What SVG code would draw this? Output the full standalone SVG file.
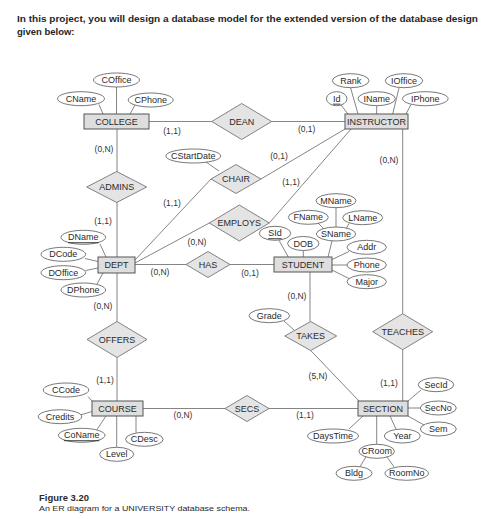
<svg xmlns="http://www.w3.org/2000/svg" width="495" height="519" viewBox="0 0 495 519">
<style>
text{font-family:"Liberation Sans",Arial,sans-serif;fill:#2a2a2a;}
.t{font-size:9px;text-anchor:middle;dominant-baseline:central;}
.card{font-size:8.5px;text-anchor:middle;dominant-baseline:central;fill:#333;}
.ent rect{fill:#dedede;stroke:#555;stroke-width:1;}
.rel polygon{fill:#e4e4e4;stroke:#666;stroke-width:0.8;}
.att ellipse{fill:#fff;stroke:#555;stroke-width:0.8;}
.ln line{stroke:#666;stroke-width:0.8;}
.hd{font-family:"Liberation Sans",Arial,sans-serif;font-size:9.5px;font-weight:bold;fill:#262626;}
</style>
<rect width="495" height="519" fill="#fff"/>
<text class="hd" x="17" y="22" textLength="461" lengthAdjust="spacingAndGlyphs">In this project, you will design a database model for the extended version of the database design</text>
<text class="hd" x="17" y="35">given below:</text>

<g id="connectors" class="ln">
<line x1="149" y1="121.5" x2="211.7" y2="121.5"/>
<line x1="271.7" y1="121.5" x2="345" y2="121.5"/>
<line x1="117" y1="129" x2="117" y2="172"/>
<line x1="117" y1="202" x2="117" y2="257"/>
<line x1="117" y1="273" x2="117" y2="321.5"/>
<line x1="117" y1="357.5" x2="117" y2="401"/>
<line x1="135" y1="260" x2="211" y2="179"/>
<line x1="261" y1="179" x2="345" y2="129"/>
<line x1="135" y1="263" x2="209.3" y2="223"/>
<line x1="269.3" y1="223" x2="351" y2="129"/>
<line x1="135" y1="264.5" x2="186" y2="264.5"/>
<line x1="230" y1="264.5" x2="274" y2="264.5"/>
<line x1="402.7" y1="129" x2="402.7" y2="313.7"/>
<line x1="402.7" y1="349.7" x2="402.7" y2="401"/>
<line x1="310" y1="272" x2="310" y2="321.5"/>
<line x1="310.7" y1="350.5" x2="359" y2="401"/>
<line x1="143" y1="408.5" x2="225" y2="408.5"/>
<line x1="269" y1="408.5" x2="358" y2="408.5"/>
<line x1="116.5" y1="87" x2="116.5" y2="114"/>
<line x1="99" y1="104.5" x2="103" y2="114"/>
<line x1="135" y1="105" x2="130" y2="114"/>
<line x1="341" y1="105" x2="348" y2="114"/>
<line x1="350.5" y1="87.5" x2="358" y2="114"/>
<line x1="376.7" y1="105.7" x2="376.7" y2="114"/>
<line x1="399" y1="88" x2="392.7" y2="114"/>
<line x1="411" y1="104.5" x2="406" y2="114"/>
<line x1="206" y1="162" x2="219" y2="171"/>
<line x1="100" y1="244" x2="106" y2="257"/>
<line x1="85" y1="258.5" x2="98" y2="261.5"/>
<line x1="85.5" y1="270.5" x2="98" y2="268"/>
<line x1="97" y1="284" x2="103" y2="273"/>
<line x1="336" y1="207.7" x2="336" y2="227"/>
<line x1="318" y1="223" x2="324" y2="229"/>
<line x1="349" y1="223.5" x2="346" y2="229"/>
<line x1="332" y1="241" x2="328" y2="257"/>
<line x1="279" y1="240.3" x2="288.3" y2="257"/>
<line x1="303.3" y1="250.5" x2="303.3" y2="257"/>
<line x1="349" y1="251.5" x2="332" y2="259.5"/>
<line x1="332" y1="265" x2="347" y2="265"/>
<line x1="332" y1="270" x2="349" y2="278.5"/>
<line x1="284" y1="321" x2="294" y2="330"/>
<line x1="88" y1="396.5" x2="92" y2="401"/>
<line x1="80.5" y1="415" x2="92" y2="411.5"/>
<line x1="97" y1="429.5" x2="106" y2="416"/>
<line x1="116.7" y1="416" x2="116.7" y2="447.3"/>
<line x1="136" y1="416" x2="136" y2="432.5"/>
<line x1="408" y1="401" x2="421" y2="390"/>
<line x1="408" y1="408" x2="420.3" y2="408"/>
<line x1="408" y1="416" x2="424" y2="425"/>
<line x1="390" y1="416" x2="396" y2="429"/>
<line x1="363" y1="416" x2="349" y2="429"/>
<line x1="376.7" y1="416" x2="376.7" y2="444.3"/>
<line x1="366" y1="457" x2="360" y2="466.5"/>
<line x1="387" y1="457" x2="394" y2="466.8"/>
</g>

<g id="COLLEGE" class="ent"><rect x="84" y="114" width="65" height="15"/><text class="t" x="116.5" y="121.5">COLLEGE</text></g>
<g id="INSTRUCTOR" class="ent"><rect x="345" y="114" width="63" height="15"/><text class="t" x="376.5" y="121.5">INSTRUCTOR</text></g>
<g id="DEPT" class="ent"><rect x="98" y="257" width="37" height="16"/><text class="t" x="116.5" y="265">DEPT</text></g>
<g id="STUDENT" class="ent"><rect x="274" y="257" width="58" height="15"/><text class="t" x="303" y="264.5">STUDENT</text></g>
<g id="COURSE" class="ent"><rect x="92" y="401" width="51" height="15"/><text class="t" x="117.5" y="408.5">COURSE</text></g>
<g id="SECTION" class="ent"><rect x="358" y="401" width="50" height="15"/><text class="t" x="383" y="408.5">SECTION</text></g>

<g id="DEAN" class="rel"><polygon points="211.7,121.5 241.7,103.5 271.7,121.5 241.7,139.5"/><text class="t" x="241.7" y="121.5">DEAN</text></g>
<g id="ADMINS" class="rel"><polygon points="86.7,187 116.7,171.5 146.7,187 116.7,202.5"/><text class="t" x="116.7" y="187">ADMINS</text></g>
<g id="CHAIR" class="rel"><polygon points="211,179 236,164.5 261,179 236,193.5"/><text class="t" x="236" y="179">CHAIR</text></g>
<g id="EMPLOYS" class="rel"><polygon points="209.3,223 239.3,205 269.3,223 239.3,241"/><text class="t" x="239.3" y="223">EMPLOYS</text></g>
<g id="HAS" class="rel"><polygon points="186,264.5 208,251.5 230,264.5 208,277.5"/><text class="t" x="208" y="264.5">HAS</text></g>
<g id="OFFERS" class="rel"><polygon points="87,339.5 117,321.5 147,339.5 117,357.5"/><text class="t" x="117" y="339.5">OFFERS</text></g>
<g id="TAKES" class="rel"><polygon points="284.7,336 310.7,321.5 336.7,336 310.7,350.5"/><text class="t" x="310.7" y="336">TAKES</text></g>
<g id="TEACHES" class="rel"><polygon points="372.7,331.7 402.7,313.7 432.7,331.7 402.7,349.7"/><text class="t" x="402.7" y="331.7">TEACHES</text></g>
<g id="SECS" class="rel"><polygon points="225,408.5 247,395.5 269,408.5 247,421.5"/><text class="t" x="247" y="408.5">SECS</text></g>

<g id="COffice" class="att"><ellipse cx="116.5" cy="80" rx="23" ry="7"/><text class="t" x="116.5" y="80">COffice</text></g>
<g id="CName" class="att"><ellipse cx="81" cy="98.7" rx="23.5" ry="7"/><text class="t" x="81" y="98.7">CName</text></g>
<g id="CPhone" class="att"><ellipse cx="150.7" cy="100" rx="22.5" ry="7"/><text class="t" x="150.7" y="100">CPhone</text></g>
<g id="Rank" class="att"><ellipse cx="350.7" cy="80.7" rx="18.3" ry="7"/><text class="t" x="350.7" y="80.7">Rank</text></g>
<g id="IOffice" class="att"><ellipse cx="404" cy="80.7" rx="18.7" ry="7"/><text class="t" x="404" y="80.7">IOffice</text></g>
<g id="Id" class="att"><ellipse cx="336.7" cy="98.7" rx="10.3" ry="7"/><text class="t" x="336.7" y="98.7" text-decoration="underline">Id</text></g>
<g id="IName" class="att"><ellipse cx="376.7" cy="98.7" rx="18.7" ry="7"/><text class="t" x="376.7" y="98.7">IName</text></g>
<g id="IPhone" class="att"><ellipse cx="425.3" cy="98.7" rx="22.8" ry="7"/><text class="t" x="425.3" y="98.7">IPhone</text></g>
<g id="CStartDate" class="att"><ellipse cx="193.3" cy="156" rx="27.5" ry="7"/><text class="t" x="193.3" y="156">CStartDate</text></g>
<g id="DName" class="att"><ellipse cx="83.3" cy="237.3" rx="22.3" ry="7"/><text class="t" x="83.3" y="237.3" text-decoration="underline">DName</text></g>
<g id="DCode" class="att"><ellipse cx="63.3" cy="254.3" rx="22.3" ry="7"/><text class="t" x="63.3" y="254.3">DCode</text></g>
<g id="DOffice" class="att"><ellipse cx="63.3" cy="272.7" rx="22.3" ry="7"/><text class="t" x="63.3" y="272.7">DOffice</text></g>
<g id="DPhone" class="att"><ellipse cx="83.3" cy="290" rx="22.3" ry="7"/><text class="t" x="83.3" y="290">DPhone</text></g>
<g id="MName" class="att"><ellipse cx="336" cy="200.7" rx="20" ry="7"/><text class="t" x="336" y="200.7">MName</text></g>
<g id="FName" class="att"><ellipse cx="308.3" cy="217.3" rx="20" ry="7"/><text class="t" x="308.3" y="217.3">FName</text></g>
<g id="LName" class="att"><ellipse cx="362.7" cy="217.7" rx="20" ry="7"/><text class="t" x="362.7" y="217.7">LName</text></g>
<g id="SName" class="att"><ellipse cx="336" cy="234" rx="19.7" ry="7"/><text class="t" x="336" y="234">SName</text></g>
<g id="SId" class="att"><ellipse cx="275" cy="233.3" rx="15.7" ry="7"/><text class="t" x="275" y="233.3" text-decoration="underline">SId</text></g>
<g id="DOB" class="att"><ellipse cx="303.3" cy="243.5" rx="15.7" ry="7"/><text class="t" x="303.3" y="243.5">DOB</text></g>
<g id="Addr" class="att"><ellipse cx="366.7" cy="247.3" rx="19.7" ry="7"/><text class="t" x="366.7" y="247.3">Addr</text></g>
<g id="Phone" class="att"><ellipse cx="366.7" cy="265" rx="19.7" ry="7"/><text class="t" x="366.7" y="265">Phone</text></g>
<g id="Major" class="att"><ellipse cx="366.7" cy="281.7" rx="19.7" ry="7"/><text class="t" x="366.7" y="281.7">Major</text></g>
<g id="Grade" class="att"><ellipse cx="269.3" cy="315.7" rx="20.3" ry="7"/><text class="t" x="269.3" y="315.7">Grade</text></g>
<g id="CCode" class="att"><ellipse cx="66" cy="390" rx="22.8" ry="7"/><text class="t" x="66" y="390">CCode</text></g>
<g id="Credits" class="att"><ellipse cx="60" cy="416.7" rx="21.7" ry="7"/><text class="t" x="60" y="416.7">Credits</text></g>
<g id="CoName" class="att"><ellipse cx="81.7" cy="435.3" rx="23.3" ry="7"/><text class="t" x="81.7" y="435.3" text-decoration="underline">CoName</text></g>
<g id="Level" class="att"><ellipse cx="116.7" cy="454.3" rx="17" ry="7"/><text class="t" x="116.7" y="454.3">Level</text></g>
<g id="CDesc" class="att"><ellipse cx="144.3" cy="439.3" rx="18.8" ry="7"/><text class="t" x="144.3" y="439.3">CDesc</text></g>
<g id="SecId" class="att"><ellipse cx="436" cy="384.7" rx="17.8" ry="7"/><text class="t" x="436" y="384.7">SecId</text></g>
<g id="SecNo" class="att"><ellipse cx="438.3" cy="408" rx="18" ry="7"/><text class="t" x="438.3" y="408">SecNo</text></g>
<g id="Sem" class="att"><ellipse cx="438.3" cy="429" rx="18" ry="7"/><text class="t" x="438.3" y="429">Sem</text></g>
<g id="Year" class="att"><ellipse cx="402.3" cy="436" rx="18" ry="7"/><text class="t" x="402.3" y="436">Year</text></g>
<g id="DaysTime" class="att"><ellipse cx="333" cy="436" rx="25.5" ry="7"/><text class="t" x="333" y="436">DaysTime</text></g>
<g id="CRoom" class="att"><ellipse cx="376.7" cy="451.3" rx="17.8" ry="7"/><text class="t" x="376.7" y="451.3">CRoom</text></g>
<g id="Bldg" class="att"><ellipse cx="354" cy="473.3" rx="18" ry="7"/><text class="t" x="354" y="473.3">Bldg</text></g>
<g id="RoomNo" class="att"><ellipse cx="406.7" cy="473.3" rx="21.7" ry="7"/><text class="t" x="406.7" y="473.3">RoomNo</text></g>

<g id="cardinalities">
<text class="card" x="172" y="131">(1,1)</text>
<text class="card" x="306.7" y="129">(0,1)</text>
<text class="card" x="104" y="149">(0,N)</text>
<text class="card" x="103" y="221">(1,1)</text>
<text class="card" x="172" y="203">(1,1)</text>
<text class="card" x="197" y="242">(0,N)</text>
<text class="card" x="160" y="272">(0,N)</text>
<text class="card" x="250" y="273">(0,1)</text>
<text class="card" x="279" y="156">(0,1)</text>
<text class="card" x="291" y="182">(1,1)</text>
<text class="card" x="389" y="160">(0,N)</text>
<text class="card" x="103" y="306">(0,N)</text>
<text class="card" x="297" y="296">(0,N)</text>
<text class="card" x="105" y="380">(1,1)</text>
<text class="card" x="183" y="415">(0,N)</text>
<text class="card" x="305" y="415">(1,1)</text>
<text class="card" x="318" y="376">(5,N)</text>
<text class="card" x="389" y="383">(1,1)</text>
</g>

<text x="39" y="501" font-size="9.5px" font-weight="bold" fill="#222" textLength="50" lengthAdjust="spacingAndGlyphs">Figure 3.20</text>
<text x="39" y="511" font-size="8px" fill="#444" textLength="211" lengthAdjust="spacingAndGlyphs">An ER diagram for a UNIVERSITY database schema.</text>
</svg>
